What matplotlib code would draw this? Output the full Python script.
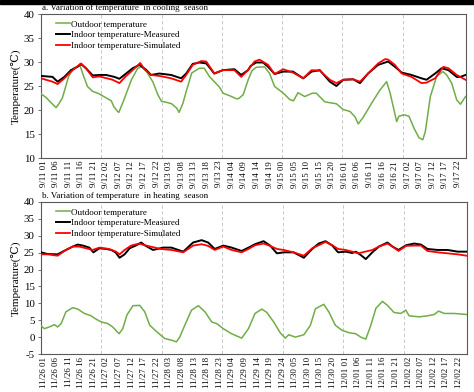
import matplotlib

matplotlib.use('Agg')
import matplotlib.pyplot as plt
from matplotlib.patches import Rectangle

# ================= 数据 =================
# 小时 (0 = 每个周期第一天 00 点), 温度 ℃

# ---- a. cooling season ----
h_out_a = [0, 2, 3.5, 5, 6, 7, 8.5, 11, 13, 15.5, 17, 18.5, 20.5, 23, 26, 28, 29, 30.5, 31, 33,
           36, 38.5, 40, 42, 44.5, 46.5, 48, 50, 52, 54, 55, 56.5, 58, 60, 63, 65, 67, 69, 71, 72.5,
           75, 78, 79, 80.5, 82.5, 84, 85.7, 89, 91, 93, 96.5, 99, 100.5, 102.3, 105, 108, 109.6, 113,
           117.6, 120.3, 123, 125, 126.3, 128.3, 131.6, 135, 137.6, 139, 141.6, 142.5, 144.5, 146.5,
           148.5, 150.5, 152, 153, 155, 157.5, 160, 161.5, 163.5, 165.5, 167, 169]
out_a = [23.4, 22.6, 21.8, 21.0, 20.5, 21.2, 22.5, 27.0, 28.7, 29.3, 27.0, 24.9, 23.9, 23.4, 22.5,
         21.9, 20.7, 19.7, 19.5, 22.1, 26.3, 28.7, 29.0, 28.0, 25.9, 23.2, 21.8, 21.6, 21.3, 20.4,
         19.5, 21.4, 24.2, 27.7, 28.7, 28.7, 27.0, 25.9, 24.8, 23.5, 23.0, 22.3, 22.5, 23.2, 26.3,
         28.2, 28.9, 29.0, 27.6, 24.9, 23.5, 22.2, 21.9, 23.6, 22.8, 23.5, 23.5, 21.7, 21.3, 20.1,
         19.7, 18.6, 17.1, 18.5, 21.4, 24.2, 25.9, 23.5, 17.6, 18.7, 19.0, 18.7, 16.2, 14.2, 13.8,
         15.5, 22.8, 27.0, 28.0, 27.3, 25.6, 22.1, 21.2, 22.8]

h_mea_a = [0, 4.6, 6.6, 9.3, 11.9, 14.6, 15.9, 17.9, 20.6, 23.2, 25.9, 29.2, 31.2, 33.9, 36.5, 39.2,
           41.8, 43.8, 47.1, 51.8, 55.8, 57.8, 60.4, 63.1, 65.8, 69, 72.4, 77, 79.7, 82.4, 83.5, 85.7,
           88.4, 90.4, 93, 96.4, 100.3, 104.4, 107.7, 111, 115, 117.6, 120.3, 124.3, 127, 130.2,
           134.2, 138.2, 140.9, 143.6, 147.5, 151.5, 153.5, 156.9, 159.5, 162.2, 165.5, 167, 169]
mea_a = [27.1, 26.9, 25.9, 26.9, 28.3, 29.0, 29.6, 28.7, 27.2, 27.3, 27.3, 26.9, 26.5, 27.6, 28.7,
         29.4, 28.4, 27.3, 27.6, 27.3, 26.6, 27.6, 29.6, 29.9, 29.7, 27.6, 28.3, 28.5, 27.3, 28.3,
         29.2, 29.9, 29.9, 29.0, 27.5, 28.0, 28.0, 26.6, 28.0, 28.3, 25.9, 25.0, 26.3, 26.4, 25.6,
         27.6, 29.4, 30.1, 29.0, 27.8, 27.3, 26.6, 26.3, 27.6, 28.7, 28.3, 26.9, 26.9, 27.3]

h_sim_a = [0, 4.6, 6.6, 9.3, 11.9, 15.9, 17.9, 20.6, 23.2, 28.5, 31.2, 33.9, 36.5, 39.5, 41.2, 43.8,
           47.1, 51.8, 55.8, 57.8, 60.4, 63.8, 65.8, 69, 72.4, 77, 79.7, 82.4, 85, 87, 90.4, 93, 96.4,
           100.3, 104.4, 107.7, 111, 115, 117.6, 120.3, 124.3, 127, 130.2, 134.2, 137, 138.2, 140.9,
           143.6, 147.5, 151.5, 153.5, 156.9, 160.2, 162.2, 165.5, 169]
sim_a = [26.6, 25.9, 25.4, 26.6, 28.0, 29.7, 28.7, 26.8, 27.0, 26.3, 25.6, 27.1, 28.3, 29.8, 28.5,
         27.3, 27.1, 26.6, 25.9, 27.3, 29.4, 30.2, 30.1, 27.6, 28.3, 28.3, 26.9, 28.3, 30.1, 30.5,
         29.4, 27.5, 28.5, 27.8, 26.6, 28.3, 28.2, 26.3, 25.6, 26.3, 26.4, 25.9, 27.6, 29.7, 30.6,
         30.5, 29.4, 27.6, 26.9, 25.6, 25.7, 26.6, 29.0, 28.7, 27.3, 26.3]

# ---- b. heating season ----
h_out_b = [0, 1.3, 3.3, 5.3, 6.6, 8, 9.9, 12.6, 14.6, 17.2, 19.9, 21.9, 23.9, 26.5, 28.5, 31, 32.5,
           34.1, 36.5, 39.2, 41.2, 43.2, 45.8, 49.1, 51.8, 53.8, 55.1, 57.1, 59.8, 62.5, 65.1, 67.8,
           69.8, 72.4, 75.7, 79.7, 82.4, 85, 87.7, 89.7, 92.4, 95, 97, 98.4, 101, 104.4, 107, 109,
           112.3, 114.3, 116.9, 119.6, 122.3, 125, 127, 129, 131, 133, 135.6, 137.6, 140.2, 142.9,
           144.9, 146.2, 150.2, 153.5, 156.2, 157.9, 160.2, 164.2, 169]
out_b = [3.4, 2.5, 3.0, 3.7, 3.0, 4.0, 7.5, 8.7, 8.3, 7.0, 6.3, 5.3, 4.5, 4.0, 3.0, 1.0, 2.5, 6.5,
         9.3, 9.4, 7.5, 3.5, 1.7, -0.4, -0.9, -1.4, 0.0, 3.5, 8.0, 9.3, 7.5, 4.5, 4.0, 2.5, 1.0,
         -0.3, 2.5, 7.0, 8.3, 7.3, 4.5, 1.3, -0.3, 0.7, 0.0, 0.7, 3.5, 8.4, 9.7, 7.5, 3.5, 2.0, 1.3,
         1.0, 0.0, -0.6, 3.5, 8.5, 10.6, 9.4, 7.3, 7.0, 8.0, 6.3, 6.0, 6.3, 6.7, 7.7, 7.0, 7.0, 6.7]

h_mea_b = [0, 2.6, 6.6, 9.9, 12.6, 14.6, 16.6, 19.2, 20.8, 23.2, 25.9, 27.9, 29.6, 31.2, 33.2, 35.2,
           37.9, 39.8, 41.2, 44.5, 48.5, 51.8, 56.5, 60.4, 63.8, 66.4, 69, 72.4, 75.7, 79.7, 82.7,
           85, 88.4, 91, 93.7, 96.4, 100.3, 104.4, 107.7, 110.3, 113, 115.7, 118, 121, 123.6, 125,
           127, 129, 131.6, 134.2, 137.6, 139.6, 142, 145, 148.2, 150.9, 153.5, 157.5, 161.5, 165.5,
           169]
mea_b = [25.1, 24.6, 24.5, 25.8, 26.8, 27.4, 27.1, 26.5, 25.1, 26.3, 26.1, 25.8, 25.1, 23.5, 24.5,
         26.3, 27.2, 28.0, 27.2, 25.8, 26.5, 26.5, 25.3, 28.0, 28.7, 28.0, 26.1, 27.1, 26.5, 25.5,
         26.6, 27.5, 28.4, 27.1, 24.8, 25.1, 25.1, 23.5, 26.1, 27.7, 28.4, 27.1, 25.1, 25.3, 24.9,
         25.3, 24.3, 23.1, 25.1, 26.8, 28.0, 26.8, 25.8, 27.2, 27.7, 27.4, 26.1, 25.8, 25.8, 25.3,
         25.3]

h_sim_b = [0, 2.6, 6.6, 9.9, 12.6, 15.2, 17.9, 20.5, 23.2, 27, 29.8, 31.2, 33.2, 35.8, 39, 41.2,
           43.5, 47.5, 51.8, 56.5, 60.4, 63.8, 66.4, 69, 72.4, 75.7, 79.7, 82.4, 85, 88.4, 91, 93.7,
           96.4, 100.3, 104.4, 107.7, 110.3, 113, 115.7, 118, 121, 123.6, 126, 131.6, 134.2, 137.6,
           139.6, 142, 145, 148.2, 150.9, 153.5, 157.5, 161.5, 165.5, 169]
sim_b = [24.5, 24.5, 24.1, 25.8, 26.8, 26.8, 26.3, 25.8, 26.5, 26.1, 25.3, 24.5, 25.8, 27.1, 27.7,
         27.2, 26.8, 26.1, 25.8, 25.1, 27.1, 27.5, 27.0, 25.8, 26.8, 25.8, 25.1, 26.1, 27.2, 27.7,
         27.0, 26.1, 25.8, 25.1, 24.1, 26.3, 27.2, 28.2, 27.2, 26.1, 25.8, 25.3, 24.8, 25.8, 26.8,
         27.7, 26.8, 25.5, 27.0, 27.1, 27.1, 25.5, 25.1, 24.8, 24.5, 24.1]

# 刻度标签 (每 5 小时一个)
tick_hours = [1 + 5 * i for i in range(34)]
labels_a = ['9/11 01', '9/11 06', '9/11 11', '9/11 16', '9/11 21', '9/12 02', '9/12 07', '9/12 12',
            '9/12 17', '9/12 22', '9/13 03', '9/13 08', '9/13 13', '9/13 18', '9/13 23', '9/14 04',
            '9/14 09', '9/14 14', '9/14 19', '9/15 00', '9/15 05', '9/15 10', '9/15 15', '9/15 20',
            '9/16 01', '9/16 06', '9/16 11', '9/16 16', '9/16 21', '9/17 02', '9/17 07', '9/17 12',
            '9/17 17', '9/17 22']
labels_b = ['11/26 01', '11/26 06', '11/26 11', '11/26 16', '11/26 21', '11/27 02', '11/27 07',
            '11/27 12', '11/27 17', '11/27 22', '11/28 03', '11/28 08', '11/28 13', '11/28 18',
            '11/28 23', '11/29 04', '11/29 09', '11/29 14', '11/29 19', '11/29 24', '11/30 05',
            '11/30 10', '11/30 15', '11/30 20', '12/01 01', '12/01 06', '12/01 11', '12/01 16',
            '12/01 21', '12/02 02', '12/02 07', '12/02 12', '12/02 17', '12/02 22']
day_lines = [24, 48, 72, 96, 120, 144]

# ================= 样式 =================
plt.rcParams['font.family'] = ['Liberation Serif', 'DejaVu Serif', 'DejaVu Sans']
plt.rcParams['axes.unicode_minus'] = False

GREEN = '#70AD47'
RED = '#FF0000'
FRAME = '#595959'

fig = plt.figure(figsize=(4.74, 3.92), dpi=100)
# 顶部黑边
fig.patches.append(Rectangle((0, 1 - 4 / 392), 1, 4 / 392, transform=fig.transFigure,
                             color='black', zorder=0))

ax_a = fig.add_axes([41 / 474, 1 - 158 / 392, 425 / 474, 144 / 392])
ax_b = fig.add_axes([41 / 474, 1 - 354 / 392, 426 / 474, 152 / 392])

panels = [
    (ax_a, h_out_a, out_a, h_mea_a, mea_a, h_sim_a, sim_a, labels_a, (10, 40),
     'a. Variation of temperature  in cooling  season'),
    (ax_b, h_out_b, out_b, h_mea_b, mea_b, h_sim_b, sim_b, labels_b, (-5, 40),
     'b. Variation of temperature  in heating  season'),
]

for ax, ho, vo, hm, vm, hs, vs, labels, ylim, title in panels:
    for d in day_lines:
        ax.axvline(d, color='#BFBFBF', lw=0.6, ls=(0, (4, 3)), zorder=1)
    ax.plot(ho, vo, color=GREEN, lw=1.1, label='Outdoor temperature', zorder=3)
    ax.plot(hm, vm, color='black', lw=1.4, label='Indoor temperature-Measured', zorder=4)
    ax.plot(hs, vs, color=RED, lw=1.3, label='Indoor temperature-Simulated', zorder=5)

    ax.set_xlim(0, 169.2)
    ax.set_ylim(*ylim)
    ax.set_yticks(range(ylim[0], ylim[1] + 1, 5))
    ax.set_xticks(tick_hours)
    ax.set_xticklabels(labels, rotation=90, fontsize=6.3)
    ax.tick_params(axis='y', labelsize=7.8, length=2.5, width=0.6, color=FRAME, pad=2)
    ax.tick_params(axis='x', length=0, pad=2)
    for sp in ax.spines.values():
        sp.set_color(FRAME)
        sp.set_linewidth(0.8)
    ax.set_ylabel('Temperature(℃)', fontsize=8, labelpad=2)
    ax.text(0.003, 1.012, title, transform=ax.transAxes, fontsize=6.5, va='bottom', ha='left')
    ax.legend(loc='upper left', bbox_to_anchor=(0.02, 1.0), frameon=False, fontsize=6.5,
              handlelength=1.6, handletextpad=0.1, labelspacing=0.25, borderaxespad=0.3)

fig.savefig('out.png', dpi=100)
